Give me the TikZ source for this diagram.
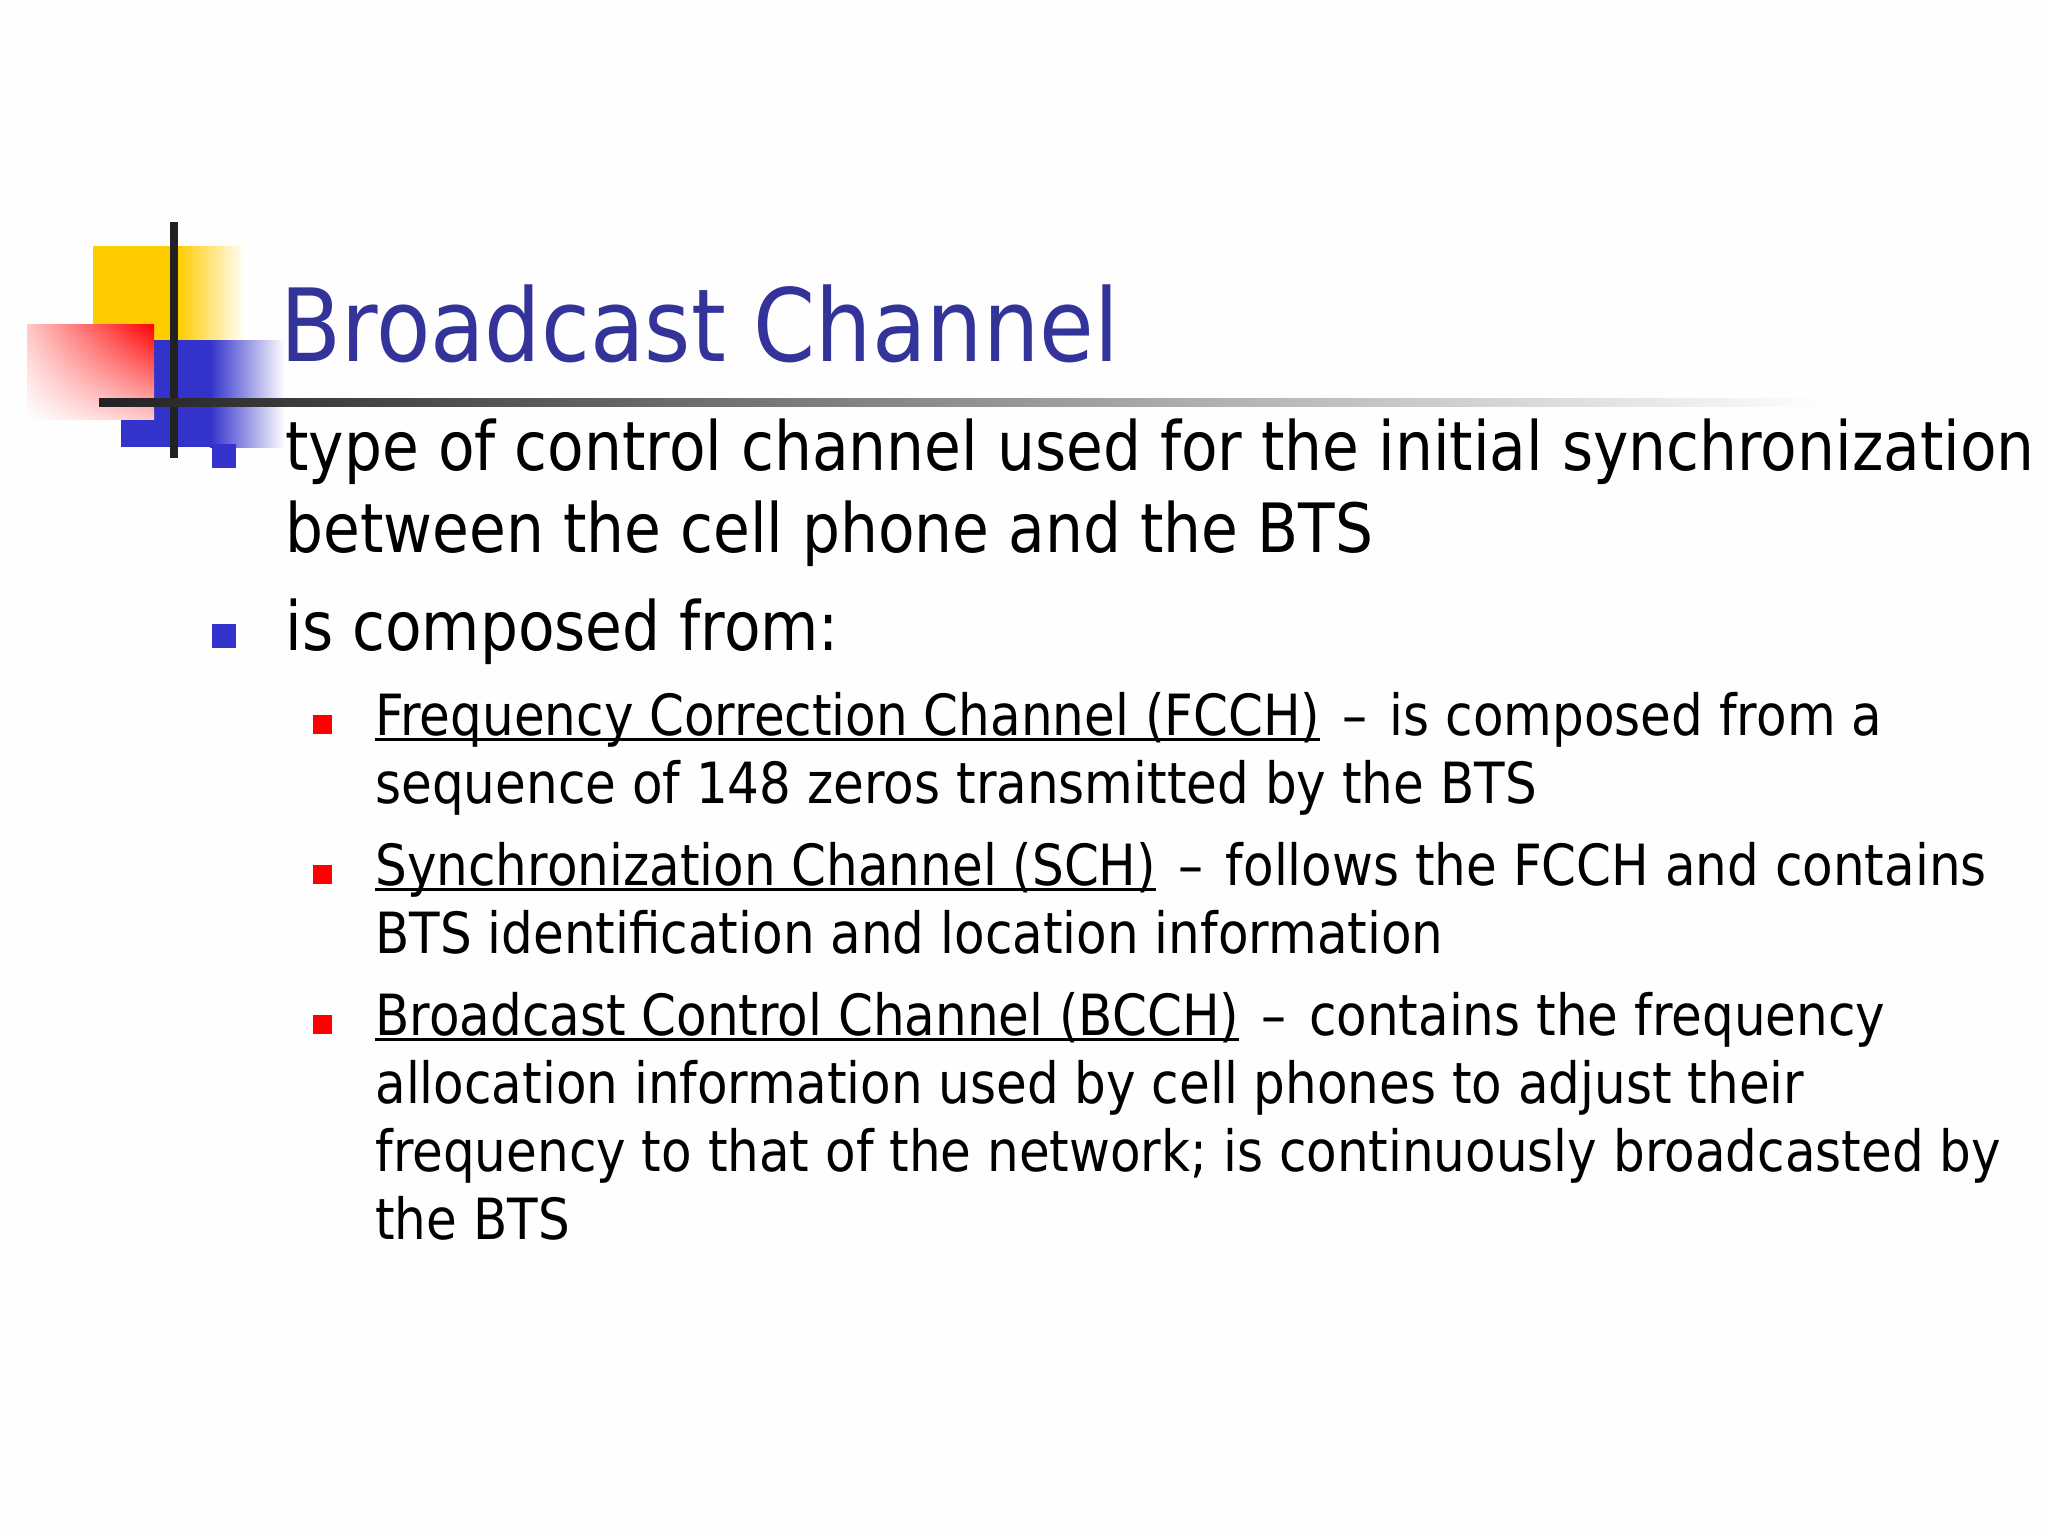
\documentclass[tikz,border=0pt]{standalone}
\usepackage{fontspec}
\setmainfont{DejaVu Sans}[FakeStretch=0.88]
\usepackage{tikz}
\usetikzlibrary{shadings}
\definecolor{titleblue}{RGB}{51,51,153}
\definecolor{markblue}{RGB}{51,51,204}
\definecolor{markyellow}{RGB}{255,204,0}
\definecolor{markblack}{RGB}{34,34,34}
\definecolor{pagewhite}{RGB}{254,254,254}
\newcommand{\linedunder}[1]{\setbox0\hbox{#1}\rlap{\rule[-2.9pt]{\wd0}{1.3pt}}\box0\relax}
\newcommand{\spaceddash}{\hspace{11.2pt}–\hspace{11.2pt}}
\tikzstyle{heading} = [anchor=base west, inner sep=0pt, text=titleblue, font=\fontsize{50.5}{55}\selectfont]
\tikzstyle{mainline} = [anchor=base west, inner sep=0pt, text=black, font=\fontsize{34}{38}\selectfont]
\tikzstyle{subline} = [anchor=base west, inner sep=0pt, text=black, font=\fontsize{28.4}{32}\selectfont]
\tikzstyle{mainbullet} = [rectangle, fill=markblue, inner sep=0pt, minimum width=12pt, minimum height=12pt]
\tikzstyle{subbullet} = [rectangle, fill=red, inner sep=0pt, minimum width=9.5pt, minimum height=9.5pt]

\begin{document}
\begin{tikzpicture}[x=0.5pt, y=-0.5pt]
    \useasboundingbox (0,0) rectangle (2048,1536);
    \fill[pagewhite] (0,0) rectangle (2048,1536);

    % corner mark
    \fill[markyellow] (93,246) rectangle (178,340);
    \shade[left color=markyellow, right color=white] (178,246) rectangle (245,340);
    \fill[markblue] (121,419) rectangle (210,447);
    \fill[markblue] (154,340) rectangle (210,447);
    \shade[left color=markblue, right color=white] (210,340) rectangle (285,447);
    \shade[upper right=red, upper left=red!22!white, lower right=red!22!white, lower left=white] (27,324) rectangle (154,419);
    \node[mainbullet] (first) at (224,456) {};
    \fill[markblack] (170,222) rectangle (178,458);
    \shade[left color=markblack, middle color=black!38, right color=white] (99,398) rectangle (1830,406);

    \node[heading] (title) at (280,361) {Broadcast Channel};

    \node[mainline] (typeone) at (285,470) {type of control channel used for the initial synchronization};
    \node[mainline] (typetwo) at (285,552) {between the cell phone and the BTS};
    \node[mainbullet] (second) at (224,636) {};
    \node[mainline] (composed) at (285,650) {is composed from:};

    \node[subbullet] (fcchmark) at (322,724) {};
    \node[subline] (fcchone) at (375,735) {\linedunder{Frequency Correction Channel (FCCH)}\spaceddash is composed from a};
    \node[subline] (fcchtwo) at (375,803) {sequence of 148 zeros transmitted by the BTS};
    \node[subbullet] (schmark) at (322,874) {};
    \node[subline] (schone) at (375,885) {\linedunder{Synchronization Channel (SCH)}\spaceddash follows the FCCH and contains};
    \node[subline] (schtwo) at (375,953) {BTS identification and location information};
    \node[subbullet] (bcchmark) at (322,1024) {};
    \node[subline] (bcchone) at (375,1035) {\linedunder{Broadcast Control Channel (BCCH)}\spaceddash contains the frequency};
    \node[subline] (bcchtwo) at (375,1103) {allocation information used by cell phones to adjust their};
    \node[subline] (bcchthree) at (375,1171) {frequency to that of the network; is continuously broadcasted by};
    \node[subline] (bcchfour) at (375,1239) {the BTS};
\end{tikzpicture}
\end{document}
